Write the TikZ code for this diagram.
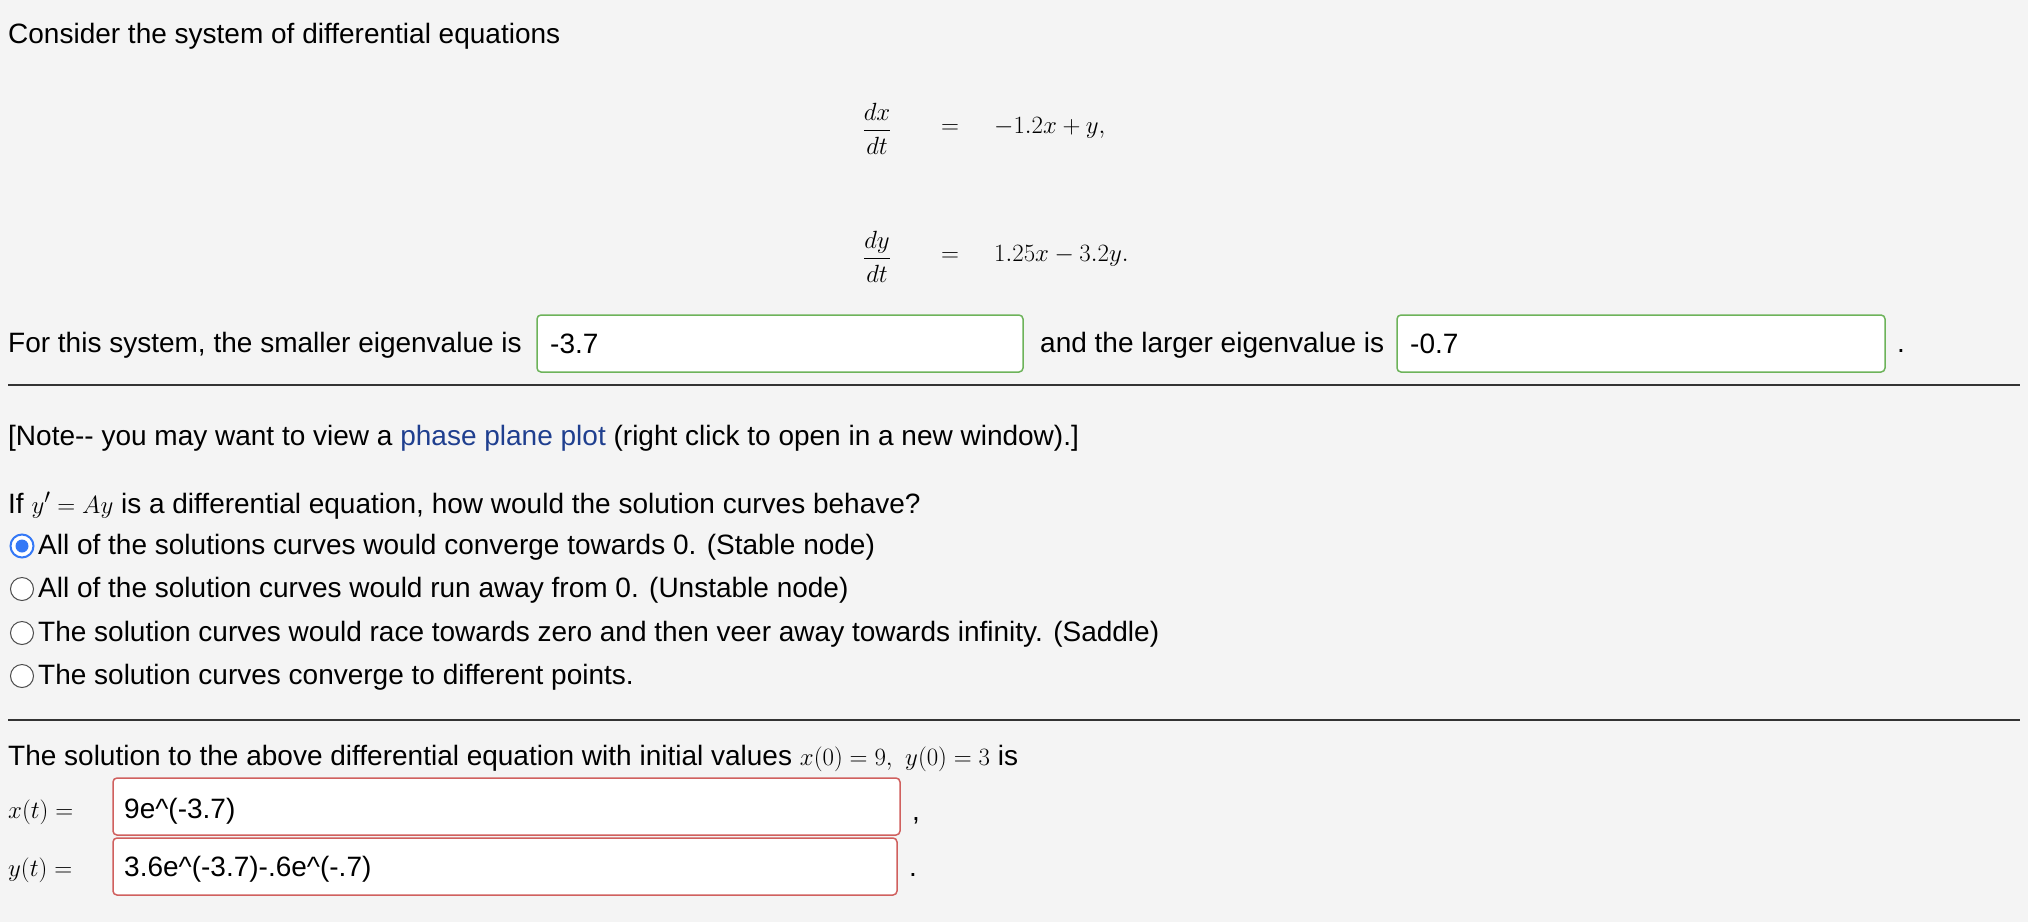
\documentclass[tikz,border=0pt]{standalone}
\usepackage{fontspec}
\setmainfont{Liberation Sans}
\usepackage{amsmath}
\definecolor{bg}{HTML}{F4F4F4}
\definecolor{okg}{HTML}{6DB35A}
\definecolor{badr}{HTML}{D0605E}
\definecolor{lnk}{HTML}{1F3F8F}
\definecolor{radb}{HTML}{3478F6}
\newcommand{\mfs}{\fontsize{30}{36}\selectfont}
\tikzset{
 txt/.style={anchor=base west,inner sep=0pt,font=\fontsize{28}{34}\selectfont},
 ansok/.style={draw=okg,line width=1.5pt,fill=white,rounded corners=4pt},
 ansbad/.style={draw=badr,line width=1.5pt,fill=white,rounded corners=4pt},
 radio/.style={circle,draw=black!70,line width=1pt,fill=white,minimum size=23pt,inner sep=0pt},
 rule/.style={draw=black!80,line width=1.2pt}
}
\begin{document}
\begin{tikzpicture}[x=1pt,y=-1pt]
\fill[bg] (0,0) rectangle (2028,922);
\useasboundingbox (0,0) rectangle (2028,922);
\node[txt] (t1) at (8,43) {Consider the system of differential equations};
% equations
\node[txt,anchor=base] (f1) at (877,137) {\mfs$\dfrac{dx}{dt}$};
\node[txt,anchor=base] (e1) at (950,133) {\mfs$=$};
\node[txt] (r1) at (994,133) {\mfs$-1.2x+y,$};
\node[txt,anchor=base] (f2) at (877,265) {\mfs$\dfrac{dy}{dt}$};
\node[txt,anchor=base] (e2) at (950,261) {\mfs$=$};
\node[txt] (r2) at (994,261) {\mfs$1.25x-3.2y.$};
% eigenvalues
\node[txt] (q1) at (8,352) {For this system, the smaller eigenvalue is};
\draw[ansok] (537,315) rectangle (1023,372);
\node[txt] (a1) at (550,353) {-3.7};
\node[txt] (q2) at (1040,352) {and the larger eigenvalue is};
\draw[ansok] (1397,315) rectangle (1885,372);
\node[txt] (a2) at (1410,353) {-0.7};
\node[txt] (d1) at (1897,352) {.};
\draw[rule] (8,385) -- (2020,385);
\node[txt] (n1) at (8,445) {[Note-{}- you may want to view a \textcolor{lnk}{phase plane plot} (right click to open in a new window).]};
\node[txt] (q3) at (8,513) {If {\mfs$y'=Ay$} is a differential equation, how would the solution curves behave?};
\node[radio,draw=radb,line width=2pt] (c1) at (22,546) {};
\fill[radb] (c1) circle (6.5);
\node[txt] (o1) at (38,554) {All of the solutions curves would converge towards 0. (Stable node)};
\node[radio] (c2) at (22,589) {};
\node[txt] (o2) at (38,597) {All of the solution curves would run away from 0. (Unstable node)};
\node[radio] (c3) at (22,633) {};
\node[txt] (o3) at (38,641) {The solution curves would race towards zero and then veer away towards infinity. (Saddle)};
\node[radio] (c4) at (22,676) {};
\node[txt] (o4) at (38,684) {The solution curves converge to different points.};
\draw[rule] (8,720) -- (2020,720);
\node[txt] (q4) at (8,765) {The solution to the above differential equation with initial values {\mfs$x(0)=9,\ y(0)=3$} is};
\node[txt] (xl) at (8,818) {\mfs$x(t)=$};
\draw[ansbad] (113,778) rectangle (900,835);
\node[txt] (xa) at (124,818) {9e\textasciicircum(-3.7)};
\node[txt] (xc) at (912,820) {,};
\node[txt] (yl) at (8,876) {\mfs$y(t)=$};
\draw[ansbad] (113,838) rectangle (897,895);
\node[txt] (ya) at (124,876) {3.6e\textasciicircum(-3.7)-.6e\textasciicircum(-.7)};
\node[txt] (yc) at (909,876) {.};
\end{tikzpicture}
\end{document}
